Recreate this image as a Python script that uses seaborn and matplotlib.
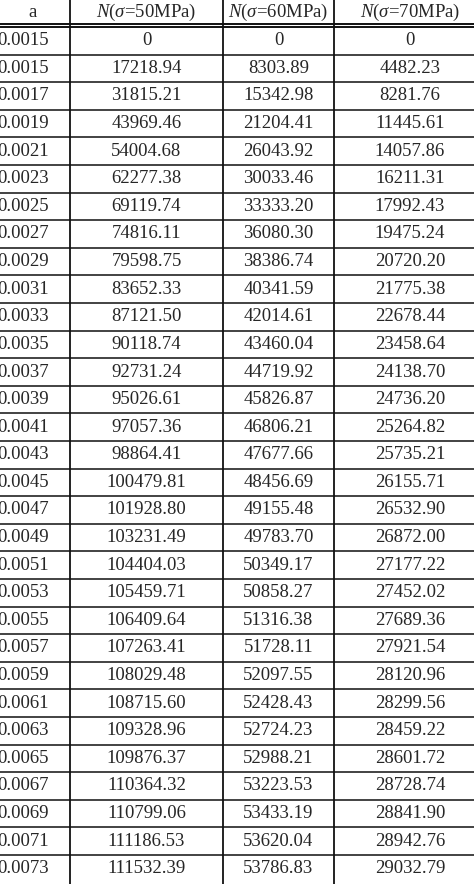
import matplotlib
matplotlib.use("Agg")
import matplotlib.pyplot as plt
import seaborn as sns

sns.set_theme(style="white")
plt.rcParams['font.family'] = ['Liberation Serif', 'DejaVu Serif']
plt.rcParams['mathtext.fontset'] = 'custom'
plt.rcParams['mathtext.it'] = 'Liberation Serif:italic'
plt.rcParams['mathtext.rm'] = 'Liberation Serif'

# table data
headers = ['a', r'$N$($\sigma$=50MPa)', r'$N$($\sigma$=60MPa)', r'$N$($\sigma$=70MPa)']
a_vals = ['0.0015', '0.0015', '0.0017', '0.0019', '0.0021', '0.0023', '0.0025', '0.0027',
          '0.0029', '0.0031', '0.0033', '0.0035', '0.0037', '0.0039', '0.0041', '0.0043',
          '0.0045', '0.0047', '0.0049', '0.0051', '0.0053', '0.0055', '0.0057', '0.0059',
          '0.0061', '0.0063', '0.0065', '0.0067', '0.0069', '0.0071', '0.0073']
n50 = ['0', '17218.94', '31815.21', '43969.46', '54004.68', '62277.38', '69119.74', '74816.11',
       '79598.75', '83652.33', '87121.50', '90118.74', '92731.24', '95026.61', '97057.36',
       '98864.41', '100479.81', '101928.80', '103231.49', '104404.03', '105459.71',
       '106409.64', '107263.41', '108029.48', '108715.60', '109328.96', '109876.37',
       '110364.32', '110799.06', '111186.53', '111532.39']
n60 = ['0', '8303.89', '15342.98', '21204.41', '26043.92', '30033.46', '33333.20', '36080.30',
       '38386.74', '40341.59', '42014.61', '43460.04', '44719.92', '45826.87', '46806.21',
       '47677.66', '48456.69', '49155.48', '49783.70', '50349.17', '50858.27', '51316.38',
       '51728.11', '52097.55', '52428.43', '52724.23', '52988.21', '53223.53', '53433.19',
       '53620.04', '53786.83']
n70 = ['0', '4482.23', '8281.76', '11445.61', '14057.86', '16211.31', '17992.43', '19475.24',
       '20720.20', '21775.38', '22678.44', '23458.64', '24138.70', '24736.20', '25264.82',
       '25735.21', '26155.71', '26532.90', '26872.00', '27177.22', '27452.02', '27689.36',
       '27921.54', '28120.96', '28299.56', '28459.22', '28601.72', '28728.74', '28841.90',
       '28942.76', '29032.79']

W, H = 474, 884
col_edges = [-5, 70, 223, 334, 486]
header_h = 25
row_h = 27.6
fs = 13.5

fig = plt.figure(figsize=(W / 100, H / 100), dpi=100)
ax = fig.add_axes([0, 0, 1, 1])
ax.set_xlim(0, W)
ax.set_ylim(H, 0)
ax.axis('off')

# header
for i, h in enumerate(headers):
    xc = (col_edges[i] + col_edges[i + 1]) / 2
    ax.text(xc, header_h / 2, h, ha='center', va='center', fontsize=fs)
ax.axhline(header_h - 1, color='#111111', lw=1.4)
ax.axhline(header_h + 2, color='#111111', lw=1.4)

# body
cols = [a_vals, n50, n60, n70]
for r in range(len(a_vals)):
    y0 = header_h + 2 + r * row_h
    yc = y0 + row_h / 2
    for c, col in enumerate(cols):
        if c == 0:
            ax.text(-3, yc, col[r], ha='left', va='center', fontsize=fs)
        else:
            xc = (col_edges[c] + col_edges[c + 1]) / 2
            ax.text(xc, yc, col[r], ha='center', va='center', fontsize=fs)
    if r > 0:
        ax.axhline(y0, color='#222222', lw=1.2)

for x in col_edges[1:-1]:
    ax.axvline(x, color='#111111', lw=1.3)

fig.savefig('out.png', dpi=100)
